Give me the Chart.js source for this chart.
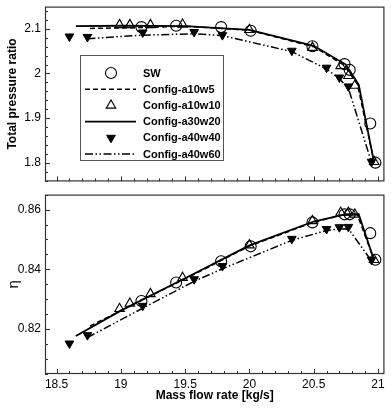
<!DOCTYPE html>
<html>
<head>
<meta charset="utf-8">
<script src="https://cdn.jsdelivr.net/npm/chart.js@4.4.0/dist/chart.umd.min.js"></script>
<style>
  body { margin: 0; background: #fff; width: 391px; height: 409px; overflow: hidden; position: relative; }
  canvas { position: absolute; left: 0; }
</style>
</head>
<body>
<canvas id="topo" width="391" height="188" style="top:0"></canvas>
<canvas id="baixo" width="391" height="221" style="top:188px"></canvas>
<script>
// valores (vazão mássica em kg/s, razão de pressão e eficiência)
const massaSW = [19.16, 19.43, 19.78, 20.01, 20.49, 20.74, 20.78, 20.94, 20.98];
const pressaoSW = [2.104, 2.107, 2.104, 2.096, 2.061, 2.021, 2.008, 1.888, 1.800];
const etaSW = [0.8294, 0.8356, 0.8427, 0.8477, 0.8557, 0.8584, 0.8584, 0.8521, 0.8432];

const massaA10w5 = [18.76, 19.15, 19.5, 20.0, 20.5, 20.74, 20.84, 20.97];
const pressaoA10w5 = [2.101, 2.103, 2.106, 2.097, 2.060, 2.018, 1.976, 1.802];
const etaA10w5 = [0.8210, 0.8295, 0.8368, 0.8478, 0.8558, 0.8583, 0.8582, 0.8432];

const massaA10w10 = [18.99, 19.07, 19.23, 19.48, 20.0, 20.49, 20.71, 20.77, 20.82, 20.97];
const pressaoA10w10 = [2.109, 2.109, 2.109, 2.110, 2.098, 2.058, 2.017, 1.995, 1.973, 1.802];
const etaA10w10 = [0.8268, 0.8286, 0.8318, 0.8372, 0.8481, 0.8562, 0.8590, 0.8590, 0.8584, 0.8432];

const massaA30w20 = [18.65, 19.0, 19.5, 20.0, 20.5, 20.75, 20.85, 20.97];
const pressaoA30w20 = [2.106, 2.107, 2.106, 2.098, 2.062, 2.020, 1.975, 1.800];
const etaA30w20 = [0.8177, 0.8262, 0.8370, 0.8480, 0.8560, 0.8585, 0.8585, 0.8430];

const massaA40w40 = [18.60, 18.74, 19.17, 19.57, 19.79, 20.33, 20.60, 20.70, 20.77, 20.95];
const pressaoA40w40 = [2.083, 2.082, 2.092, 2.093, 2.086, 2.051, 2.013, 1.991, 1.971, 1.802];
const etaA40w40 = [0.8152, 0.8180, 0.8278, 0.8367, 0.8411, 0.8502, 0.8535, 0.8541, 0.8542, 0.8432];

const massaA40w60 = [18.74, 19.17, 19.57, 19.79, 20.33, 20.60, 20.70, 20.77, 20.95];
const pressaoA40w60 = [2.078, 2.086, 2.089, 2.085, 2.049, 2.010, 1.988, 1.967, 1.800];
const etaA40w60 = [0.8172, 0.8270, 0.8360, 0.8402, 0.8497, 0.8530, 0.8535, 0.8536, 0.8428];

// rótulos dos eixos
const ticksMassa = [18.5, 19, 19.5, 20, 20.5, 21];
const ticksPressao = [1.8, 1.9, 2, 2.1];
const ticksEta = [0.82, 0.84, 0.86];

Chart.defaults.font.family = '"Liberation Sans", Arial, sans-serif';
Chart.defaults.color = '#000';

// junta x e y em pontos {x, y}
function pontos(xs, ys) {
  return xs.map((x, i) => ({ x: x, y: ys[i] }));
}

function montarDatasets(ys) {
  return [
    { label: 'SW', data: pontos(massaSW, ys[0]), showLine: false, pointStyle: 'circle',
      pointRadius: 5.5, borderColor: '#000', backgroundColor: 'rgba(0,0,0,0)', borderWidth: 1.1 },
    { label: 'Config-a10w5', data: pontos(massaA10w5, ys[1]), showLine: true, pointRadius: 0,
      borderColor: '#000', borderDash: [5, 3], borderWidth: 1.5 },
    { label: 'Config-a10w10', data: pontos(massaA10w10, ys[2]), showLine: false, pointStyle: 'triangle',
      pointRadius: 5.5, borderColor: '#000', backgroundColor: 'rgba(0,0,0,0)', borderWidth: 1.1 },
    { label: 'Config-a30w20', data: pontos(massaA30w20, ys[3]), showLine: true, pointRadius: 0,
      borderColor: '#000', borderWidth: 1.8 },
    { label: 'Config-a40w40', data: pontos(massaA40w40, ys[4]), showLine: false, pointStyle: 'triangle',
      pointRotation: 180, pointRadius: 5, borderColor: '#000', backgroundColor: '#000', borderWidth: 1 },
    { label: 'Config-a40w60', data: pontos(massaA40w60, ys[5]), showLine: true, pointRadius: 0,
      borderColor: '#000', borderDash: [8, 2.5, 1.5, 2.5, 1.5, 2.5], borderWidth: 1.5 }
  ];
}

// moldura e ticks para dentro (estilo tecplot)
const ticksDentro = {
  id: 'ticksDentro',
  afterDraw(chart, args, o) {
    const { ctx, chartArea: a, scales: { x, y } } = chart;
    ctx.save();
    ctx.strokeStyle = '#333';
    ctx.lineWidth = 1;
    for (let i = Math.ceil(x.min / 0.1); i * 0.1 <= x.max; i++) {
      const v = i * 0.1;
      const maior = Math.abs(v / 0.5 - Math.round(v / 0.5)) < 1e-6;
      const px = Math.round(x.getPixelForValue(v)) + 0.5;
      ctx.beginPath();
      ctx.moveTo(px, a.bottom);
      ctx.lineTo(px, a.bottom - (maior ? 5 : 3));
      ctx.stroke();
    }
    for (let i = Math.ceil(y.min / o.passo); i * o.passo <= y.max; i++) {
      const v = i * o.passo;
      const maior = Math.abs(v / o.maior - Math.round(v / o.maior)) < 1e-6;
      const py = Math.round(y.getPixelForValue(v)) + 0.5;
      ctx.beginPath();
      ctx.moveTo(a.left, py);
      ctx.lineTo(a.left + (maior ? 5 : 3), py);
      ctx.stroke();
    }
    ctx.lineWidth = 1.2;
    ctx.strokeRect(a.left + 0.5, a.top + 0.5, a.right - a.left - 1, a.bottom - a.top - 1);
    ctx.restore();
  }
};

// legenda desenhada na caixa dentro do gráfico de cima
const legendaCaixa = {
  id: 'legendaCaixa',
  afterDraw(chart) {
    const ctx = chart.ctx;
    ctx.save();
    ctx.fillStyle = '#fff';
    ctx.fillRect(80, 55, 143, 105);
    ctx.strokeStyle = '#555';
    ctx.lineWidth = 1;
    ctx.strokeRect(80.5, 55.5, 143, 105);
    chart.data.datasets.forEach((ds, i) => {
      const yy = 73 + i * 16.2;
      ctx.strokeStyle = '#000';
      if (ds.showLine) {
        ctx.lineWidth = ds.borderWidth;
        ctx.setLineDash(ds.borderDash || []);
        ctx.beginPath();
        ctx.moveTo(85, yy);
        ctx.lineTo(136, yy);
        ctx.stroke();
        ctx.setLineDash([]);
      } else {
        ctx.fillStyle = ds.backgroundColor;
        ctx.lineWidth = ds.borderWidth;
        Chart.helpers.drawPoint(ctx, { pointStyle: ds.pointStyle, rotation: ds.pointRotation || 0,
          radius: ds.pointRadius, borderWidth: ds.borderWidth }, 111, yy);
      }
      ctx.fillStyle = '#000';
      ctx.font = 'bold 11px "Liberation Sans", Arial, sans-serif';
      ctx.textBaseline = 'middle';
      ctx.fillText(ds.label, 143, yy + 0.5);
    });
    ctx.restore();
  }
};

function eixoY(min, max, lista, titulo, fonteTitulo) {
  return {
    min: min, max: max,
    afterFit(s) { s.width = 45; s.paddingTop = 0; s.paddingBottom = 0; },
    afterBuildTicks(s) { s.ticks = lista.map(v => ({ value: v })); },
    grid: { display: false, drawTicks: false },
    border: { display: false },
    ticks: { padding: 4, font: { size: 12 }, color: '#000', callback: v => String(v) },
    title: { display: true, text: titulo, font: fonteTitulo, color: '#000', padding: { top: 5, bottom: 0 } }
  };
}

const chartTopo = new Chart(document.getElementById('topo'), {
  type: 'scatter',
  data: { datasets: montarDatasets([pressaoSW, pressaoA10w5, pressaoA10w10, pressaoA30w20, pressaoA40w40, pressaoA40w60]) },
  options: {
    responsive: false,
    animation: false,
    layout: { padding: { left: 0, right: 5, top: 4, bottom: 5 } },
    scales: {
      x: { type: 'linear', min: 18.41, max: 21.05, display: false },
      y: eixoY(1.758, 2.15, ticksPressao, 'Total pressure ratio', { size: 12, weight: 'bold' })
    },
    plugins: { legend: { display: false }, tooltip: { enabled: false }, ticksDentro: { passo: 0.02, maior: 0.1 } }
  },
  plugins: [ticksDentro, legendaCaixa]
});

const chartBaixo = new Chart(document.getElementById('baixo'), {
  type: 'scatter',
  data: { datasets: montarDatasets([etaSW, etaA10w5, etaA10w10, etaA30w20, etaA40w40, etaA40w60]) },
  options: {
    responsive: false,
    animation: false,
    layout: { padding: { left: 0, right: 5, top: 2, bottom: 0 } },
    scales: {
      x: {
        type: 'linear', min: 18.41, max: 21.05,
        afterFit(s) { s.height = 35; s.paddingLeft = 0; s.paddingRight = 0; },
        afterBuildTicks(s) { s.ticks = ticksMassa.map(v => ({ value: v })); },
        grid: { display: false, drawTicks: false },
        border: { display: false },
        ticks: { padding: 3, font: { size: 12 }, color: '#000', autoSkip: false, maxRotation: 0, callback: v => String(v) },
        title: { display: true, text: 'Mass flow rate [kg/s]', font: { size: 12, weight: 'bold' }, color: '#000', padding: { top: 0, bottom: 6 } }
      },
      y: eixoY(0.805, 0.865, ticksEta, 'η', { size: 15 })
    },
    plugins: { legend: { display: false }, tooltip: { enabled: false }, ticksDentro: { passo: 0.005, maior: 0.02 } }
  },
  plugins: [ticksDentro]
});
</script>
</body>
</html>
